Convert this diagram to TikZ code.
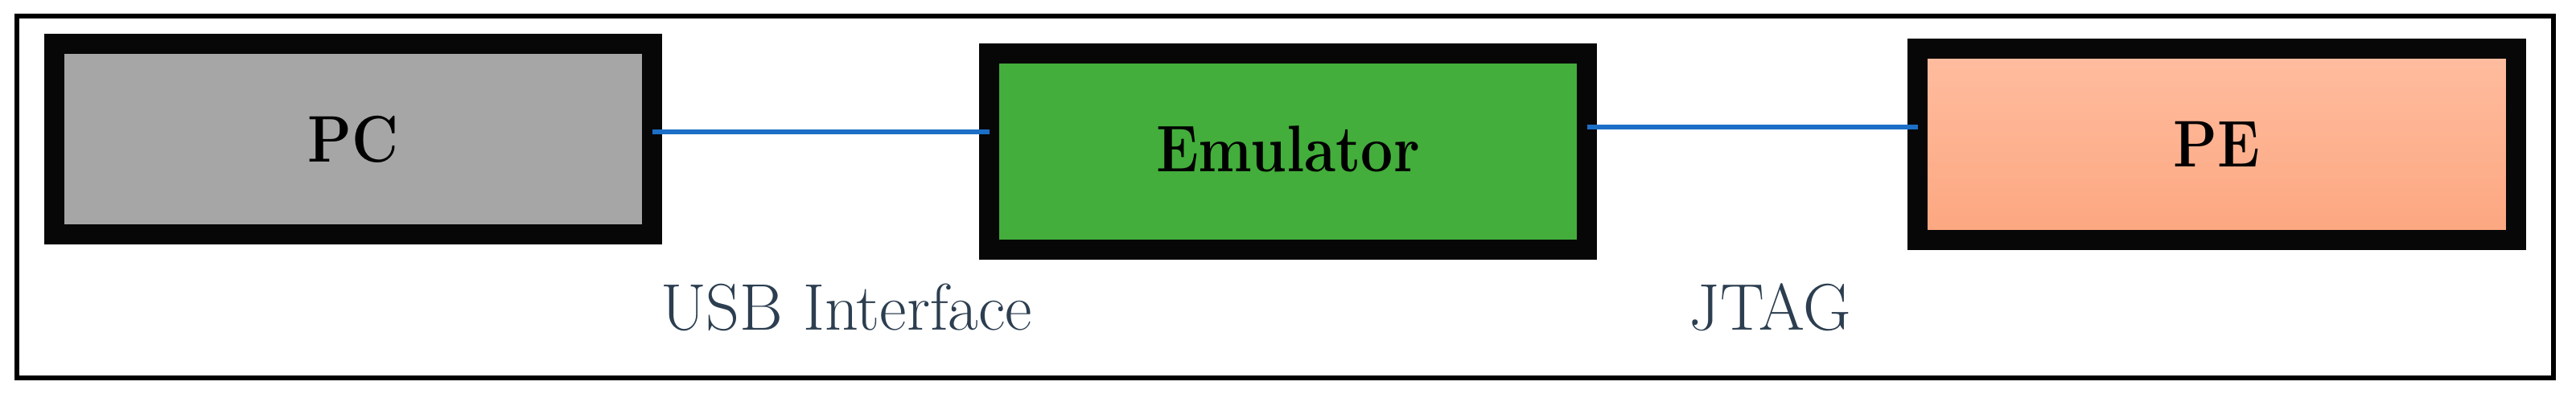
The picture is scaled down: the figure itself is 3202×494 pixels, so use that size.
\documentclass[tikz,border=0pt]{standalone}
\usepackage{fontspec}
\usepackage{graphicx}
\definecolor{boxgrey}{HTML}{A6A6A6}
\definecolor{emugreen}{HTML}{43AE3B}
\definecolor{petop}{HTML}{FFBDA0}
\definecolor{pebot}{HTML}{FCA67F}
\definecolor{linkblue}{HTML}{1C6FC6}
\definecolor{labelcol}{HTML}{2C3E50}
\definecolor{edge}{HTML}{070707}
\newcommand{\boxtext}[1]{\scalebox{0.87}[1]{\bfseries #1}}
\begin{document}
\begin{tikzpicture}[x=0.25pt,y=-0.25pt,
 blockbox/.style={draw=edge, line width=6.25pt, rectangle, outer sep=0pt, inner sep=0pt, font=\fontsize{20.5}{24}\selectfont},
 link/.style={draw=linkblue, line width=1.5pt},
 portlabel/.style={anchor=base, text=labelcol, font=\fontsize{20.5}{24}\selectfont, inner sep=0pt}]
\useasboundingbox (0,0) rectangle (3202,494);
\draw[line width=1.5pt] (21,20) rectangle (3174,470);
\node[blockbox, fill=boxgrey, minimum width=185.75pt, minimum height=59.25pt] (pc) at (439,173) {\boxtext{PC}};
\node[blockbox, fill=emugreen, minimum width=185.75pt, minimum height=61pt] (emu) at (1601,188.5) {\raisebox{1.5pt}{\boxtext{Emulator}}};
\node[blockbox, top color=petop, bottom color=pebot, minimum width=186pt, minimum height=59.5pt] (pe) at (2755.5,179.5) {\boxtext{PE}};
\draw[link] ([yshift=2.25pt]pc.east) -- ([yshift=2.25pt]pc.east -| emu.west);
\draw[link] ([yshift=7.625pt]emu.east) -- ([yshift=7.625pt]emu.east -| pe.west);
\node[portlabel] (usb) at (1052,410) {USB Interface};
\node[portlabel] (jtag) at (2200,410) {JTAG};
\end{tikzpicture}
\end{document}
